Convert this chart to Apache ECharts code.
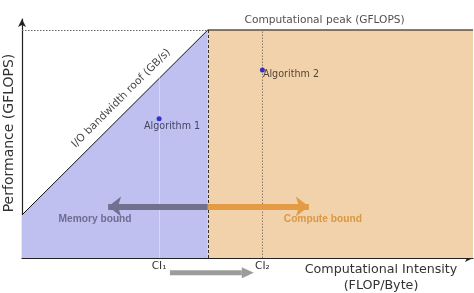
<!DOCTYPE html>
<html>
<head>
<meta charset="utf-8">
<script src="https://cdn.jsdelivr.net/npm/echarts@6/dist/echarts.min.js"></script>
<style>html,body{margin:0;padding:0;background:#fff}#c{width:474px;height:293px}</style>
</head>
<body>
<div id="c"></div>
<script>
// ---- data (axis units: 0..100 on both axes) ----
const ciPositions = [30.4, 53.3];
const ciLabels = ['CI\u2081', 'CI\u2082'];
const algorithmNames = ['Algorithm 1', 'Algorithm 2'];
const algorithmPerf = [58.3, 78.7];
const roofX = [0, 41.2];          // bandwidth roof start / ridge point
const roofY = [18.0, 95.4];
const peakX = [41.2, 100];        // computational peak
const peakY = [95.4, 95.4];
const boundNames = ['Memory bound', 'Compute bound'];
const boundLabelX = [16.2, 66.7];
const boundLabelY = [16.3, 16.3];
const boundArrowStart = [41.2, 41.2];
const boundArrowEnd = [19.1, 63.6];
const boundArrowY = [21.5, 21.5];
const shiftArrowX = [32.8, 51.4];
const shiftArrowY = [-6.2, -6.2];
const roofLabel = 'I/O bandwidth roof (GB/s)';
const roofLabelPos = [22.0, 66.8];
const peakLabel = 'Computational peak (GFLOPS)';
const peakLabelPos = [67.1, 99.6];

const FONT = 'DejaVu Sans';
const chart = echarts.init(document.getElementById('c'), null, {renderer: 'canvas'});

const option = {
  animation: false,
  backgroundColor: '#fff',
  grid: {left: 22, right: 1, top: 19, bottom: 35},
  xAxis: {
    type: 'value', min: 0, max: 100,
    axisLine: {show: true, onZero: false, symbol: ['none', 'arrow'], symbolSize: [6, 8], lineStyle: {color: '#222', width: 1.2}},
    axisTick: {show: false},
    splitLine: {show: false},
    axisLabel: {
      show: true, customValues: ciPositions, margin: 3,
      fontFamily: FONT, fontSize: 10.5, color: '#333',
      formatter: v => { const i = ciPositions.findIndex(p => Math.abs(p - v) < 1e-6); return i >= 0 ? ciLabels[i] : ''; }
    }
  },
  yAxis: {
    type: 'value', min: 0, max: 100,
    axisLine: {show: true, onZero: false, symbol: ['none', 'arrow'], symbolSize: [6, 8], lineStyle: {color: '#222', width: 1.2}},
    axisTick: {show: false},
    splitLine: {show: false},
    axisLabel: {show: false}
  },
  graphic: [
    {type: 'text', x: 9, y: 133, rotation: Math.PI / 2,
     style: {text: 'Performance (GFLOPS)', font: '14px "DejaVu Sans"', fill: '#333', textAlign: 'center', textVerticalAlign: 'middle'}},
    {type: 'text', x: 381, y: 262,
     style: {text: 'Computational Intensity\n(FLOP/Byte)', font: '12.7px "DejaVu Sans"', lineHeight: 16, fill: '#333', textAlign: 'center', textVerticalAlign: 'top'}}
  ],
  series: [
    {
      type: 'line', z: 1, symbol: 'none', silent: true,
      data: roofX.map((x, i) => [x, roofY[i]]),
      lineStyle: {color: '#111', width: 1},
      areaStyle: {color: '#c0c0f0', opacity: 1}
    },
    {
      type: 'line', z: 1, symbol: 'none', silent: true,
      data: peakX.map((x, i) => [x, peakY[i]]),
      lineStyle: {color: '#5e5040', width: 1.6},
      areaStyle: {color: '#f1d2aa', opacity: 1}
    },
    {
      type: 'scatter', z: 3, data: [], silent: true, clip: false,
      markLine: {
        silent: true, symbol: 'none', animation: false,
        label: {show: false},
        data: [
          [{coord: [ciPositions[0], 0], lineStyle: {color: 'rgba(255,255,255,0.35)', width: 1, type: 'solid'}}, {coord: [ciPositions[0], 100]}],
          [{coord: [ciPositions[1], 0], lineStyle: {color: '#8a7a6a', width: 1, type: [1.5, 1.5]}}, {coord: [ciPositions[1], peakY[0]]}],
          [{coord: [0, peakY[0]], lineStyle: {color: '#666', width: 1, type: [1.5, 1.5]}}, {coord: [roofX[1], peakY[0]]}],
          [{coord: [roofX[1], 0], lineStyle: {color: '#333', width: 1, type: [3, 2]}}, {coord: [roofX[1], peakY[0]]}]
        ]
      }
    },
    {
      type: 'scatter', z: 4, data: [], silent: true, clip: false,
      markLine: {
        silent: true, symbol: ['none', 'arrow'], symbolSize: [15, 13], animation: false,
        label: {show: false},
        data: [
          [{coord: [boundArrowStart[0], boundArrowY[0]], lineStyle: {color: '#71718f', width: 6, type: 'solid', opacity: 1}}, {coord: [boundArrowEnd[0], boundArrowY[0]], itemStyle: {color: '#71718f'}}],
          [{coord: [boundArrowStart[1], boundArrowY[1]], lineStyle: {color: '#e39c45', width: 6, type: 'solid', opacity: 1}}, {coord: [boundArrowEnd[1], boundArrowY[1]], itemStyle: {color: '#e39c45'}}]
        ]
      }
    },
    {
      type: 'scatter', z: 5, silent: true, clip: false,
      symbolSize: 5, itemStyle: {color: '#0a0ad0'},
      data: [
        {value: [ciPositions[0], algorithmPerf[0]], name: algorithmNames[0],
         label: {show: true, position: 'bottom', distance: 0, offset: [13, 0], formatter: '{b}', fontFamily: FONT, fontSize: 9.6, color: '#23233f'}},
        {value: [ciPositions[1], algorithmPerf[1]], name: algorithmNames[1],
         label: {show: true, position: 'right', distance: 0, offset: [-2, 5], formatter: '{b}', fontFamily: FONT, fontSize: 9.6, color: '#2a2218'}}
      ]
    },
    {
      type: 'scatter', z: 6, silent: true, clip: false, symbolSize: 0,
      data: [
        {value: [boundLabelX[0], boundLabelY[0]], name: boundNames[0],
         label: {show: true, position: 'inside', formatter: '{b}', fontFamily: 'Liberation Sans', fontWeight: 'bold', fontSize: 10.2, color: '#56567a'}},
        {value: [boundLabelX[1], boundLabelY[1]], name: boundNames[1],
         label: {show: true, position: 'inside', formatter: '{b}', fontFamily: 'Liberation Sans', fontWeight: 'bold', fontSize: 10.2, color: '#d4892c'}},
        {value: roofLabelPos, name: roofLabel,
         label: {show: true, position: 'inside', rotate: 45, formatter: '{b}', fontFamily: FONT, fontSize: 10.6, color: '#111'}},
        {value: peakLabelPos, name: peakLabel,
         label: {show: true, position: 'inside', formatter: '{b}', fontFamily: FONT, fontSize: 10.6, color: '#222'}}
      ]
    }
  ]
};
chart.setOption(option);

// shift arrow below the x axis (outside the plotting range), placed via the chart's own scales
const p0 = chart.convertToPixel({gridIndex: 0}, [shiftArrowX[0], shiftArrowY[0]]);
const p1 = chart.convertToPixel({gridIndex: 0}, [shiftArrowX[1], shiftArrowY[1]]);
const headLen = 12, headHalf = 5.5, shaft = 5;
chart.setOption({
  graphic: [
    {type: 'text', x: 9, y: 133, rotation: Math.PI / 2,
     style: {text: 'Performance (GFLOPS)', font: '14px "DejaVu Sans"', fill: '#333', textAlign: 'center', textVerticalAlign: 'middle'}},
    {type: 'text', x: 381, y: 262,
     style: {text: 'Computational Intensity\n(FLOP/Byte)', font: '12.7px "DejaVu Sans"', lineHeight: 16, fill: '#333', textAlign: 'center', textVerticalAlign: 'top'}},
    {type: 'rect', shape: {x: p0[0], y: p0[1] - shaft / 2, width: p1[0] - p0[0] - headLen, height: shaft}, style: {fill: '#9c9c9c'}, silent: true},
    {type: 'polygon', shape: {points: [[p1[0] - headLen, p1[1] - headHalf], [p1[0], p1[1]], [p1[0] - headLen, p1[1] + headHalf]]}, style: {fill: '#9c9c9c'}, silent: true}
  ]
}, {replaceMerge: ['graphic']});
</script>
</body>
</html>
